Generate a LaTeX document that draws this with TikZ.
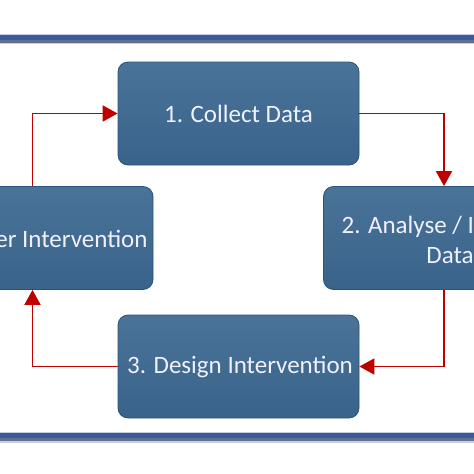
\documentclass[tikz,border=0pt]{standalone}
\usepackage{fontspec}
\setmainfont{Carlito}
\usetikzlibrary{arrows.meta}
\definecolor{boxfill}{HTML}{3B6790}
\definecolor{boxedge}{HTML}{2C5479}
\definecolor{conncol}{HTML}{C00000}
\definecolor{rulebl}{HTML}{3D5A98}
\definecolor{rulegr}{HTML}{607090}
\definecolor{rulelt}{HTML}{C9CCE6}
\tikzset{
  box/.style={draw=boxedge, line width=0.8pt, top color=boxfill!92!white, bottom color=boxfill!96!black,
    rounded corners=10pt, minimum width=241pt, minimum height=103pt, inner sep=0pt},
  txt/.style={text=white!94!blue, font=\fontsize{25}{30}\selectfont, align=center, inner sep=0pt},
  conn/.style={draw=conncol, line width=1.8pt, -{Triangle[length=15pt,width=16pt]}},
}
\begin{document}
\begin{tikzpicture}[x=1pt,y=-1pt]
\useasboundingbox (0,0) rectangle (474,474);
\clip (0,0) rectangle (474,474);
% rules
\fill[rulelt] (0,33.5) rectangle (474,44);
\fill[rulebl] (0,34.5) rectangle (474,39.5);
\fill[rulegr] (0,39.5) rectangle (474,42.5);
\fill[rulelt] (0,431.5) rectangle (474,442.5);
\fill[rulebl] (0,432.5) rectangle (474,437.8);
\fill[rulegr] (0,437.8) rectangle (474,441);
% boxes
\node[box] (b1) at (238.5,113.5) {};
\node[txt] (t1) at (238.5,114) {1. Collect Data};
\node[box] (b2) at (444,238) {};
\node[txt] (t2) at (450,240) {2. Analyse / Interpret\\Data};
\node[box] (b3) at (238.5,366.5) {};
\node[txt] (t3) at (240,367) {3. Design Intervention};
\node[box] (b4) at (32.5,238) {};
\node[txt] (t4) at (33,238.5) {4. Deliver Intervention};
% connectors
\draw[conn] (b4.north) |- (b1.west);
\draw[conn] (b1.east) -| (b2.north);
\draw[conn] (b2.south) |- (b3.east);
\draw[conn] (b3.west) -| (b4.south);
\end{tikzpicture}
\end{document}
